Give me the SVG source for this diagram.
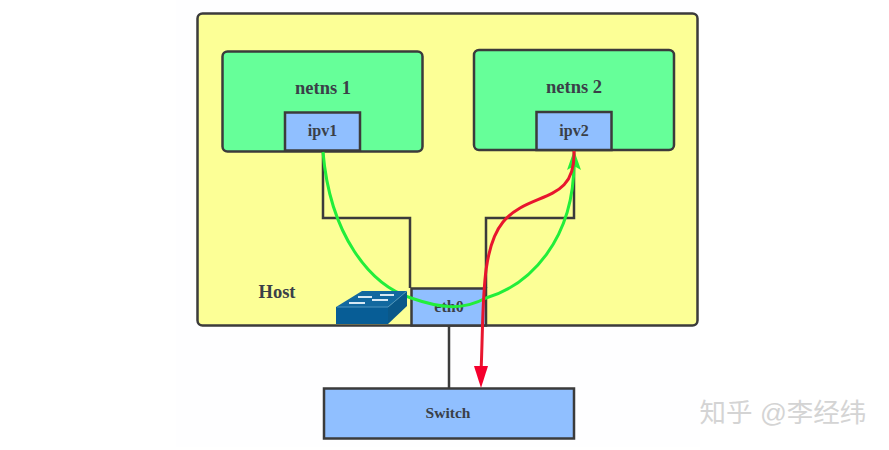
<svg xmlns="http://www.w3.org/2000/svg" width="889" height="450" viewBox="0 0 889 450">
<style>
.box{stroke:#3b3b3b;stroke-width:2.5}
.wire{fill:none;stroke:#3b3b3b;stroke-width:2.5}
.t{font-family:"Liberation Serif","DejaVu Serif",serif;font-weight:bold;fill:#3a4048;text-anchor:middle}
.blue{fill:#90bfff}
</style>
<rect width="889" height="450" fill="#fff"/>
<rect x="176" y="0" width="524" height="447" fill="#fefeff"/>
<g id="host"><rect class="box" x="197.500" y="13.500" width="500" height="312" rx="5" fill="#fcff96"/><text class="t" x="277" y="298" font-size="18.500">Host</text></g>
<g id="netns1"><rect class="box" x="222.500" y="51.500" width="200" height="100" rx="5" fill="#66ff99"/><text class="t" x="323" y="94" font-size="18.500">netns 1</text></g>
<g id="netns2"><rect class="box" x="474" y="50" width="200" height="100" rx="5" fill="#66ff99"/><text class="t" x="574" y="93" font-size="18.500">netns 2</text></g>
<g id="ipv1"><rect class="box blue" x="285" y="112.500" width="75" height="38"/><text class="t" x="322.500" y="136" font-size="16">ipv1</text></g>
<g id="ipv2"><rect class="box blue" x="536.500" y="112" width="75" height="38"/><text class="t" x="574" y="136" font-size="16">ipv2</text></g>
<g id="eth0"><rect class="box blue" x="411.500" y="288.500" width="74.500" height="37"/><text class="t" x="449" y="312" font-size="16">eth0</text></g>
<g id="switch"><rect class="box blue" x="324" y="388.500" width="250" height="50"/><text class="t" x="448" y="418" font-size="15.500">Switch</text></g>
<g id="connectors">
<path class="wire" d="M323 151V218H410V288"/>
<path class="wire" d="M574 150V218H486V288"/>
<path class="wire" d="M449 326V388"/>
<path d="M323 152C330 235 370 285 411 298C440 308 462 311 486 298C530 285 574 240 574 162" fill="none" stroke="#22ee3a" stroke-width="3"/>
<path d="M574 150L581 170L574 166L567 170Z" fill="#22ee3a"/>
<path d="M574 151C576 205 530 190 503 222C480 250 484 310 481 372" fill="none" stroke="#e8162e" stroke-width="3"/>
<path d="M481 388L474 366H488Z" fill="#f5002d"/>
</g>
<g id="switch-icon">
<path d="M336 307L362 291H407L388 307Z" fill="#12689f"/>
<path d="M336 307H388V324H336Z" fill="#075d96"/>
<path d="M388 307L407 291V306L388 324Z" fill="#0a5889"/>
<path d="M337 307H388L407 291" fill="none" stroke="#4c93bd" stroke-width="1"/>
<path d="M358 297H372M380 295H394M349 303H365M372 300H388" stroke="#d6e8f4" stroke-width="2" fill="none"/>
</g>
<text x="783" y="422" font-size="26.500" fill="#d4d4d4" text-anchor="middle" font-family="'Liberation Sans','Noto Sans CJK SC',sans-serif">知乎 @李经纬</text>
</svg>
